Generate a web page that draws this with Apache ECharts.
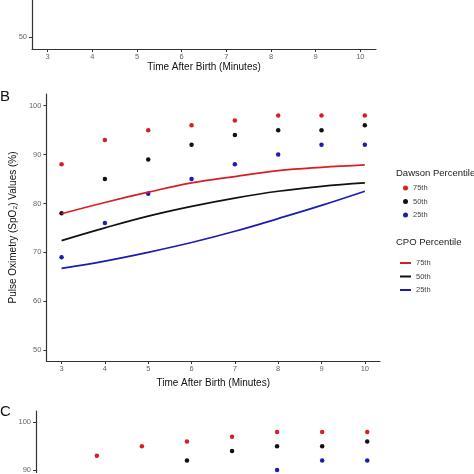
<!DOCTYPE html>
<html>
<head>
<meta charset="utf-8">
<script src="https://cdn.jsdelivr.net/npm/echarts@6/dist/echarts.min.js"></script>
<style>
  html, body { margin: 0; padding: 0; background: #fff; }
  #chart { width: 474px; height: 474px; }
</style>
</head>
<body>
<div id="chart"></div>
<script>
// minutes after birth
const minutes = [3, 4, 5, 6, 7, 8, 9, 10];
// Dawson percentiles (dots)
const dawson75 = [88, 93, 95, 96, 97, 98, 98, 98];
const dawson50 = [78, 85, 89, 92, 94, 95, 95, 96];
const dawson25 = [69, 76, 82, 85, 88, 90, 92, 92];
// CPO percentiles (curves)
const cpo75 = [77.9, 80.2, 82.3, 84.2, 85.5, 86.7, 87.4, 87.9];
const cpo50 = [72.4, 75.0, 77.4, 79.4, 81.1, 82.5, 83.5, 84.2];
const cpo25 = [66.7, 68.2, 70.0, 72.0, 74.3, 76.9, 79.6, 82.5];
// tick labels
const xTicks = [3, 4, 5, 6, 7, 8, 9, 10];
const yTicks = [50, 60, 70, 80, 90, 100];
const topYTicks = [50];
const bottomYTicks = [90, 100];

const RED = "#d81e25";
const BLACK = "#111111";
const BLUE = "#1c1cb4";
const FONT = "Liberation Sans";

const pairs = (ys) => minutes.map((m, i) => [m, ys[i]]);

function xAxis(gridIndex, showName, hidden) {
  return {
    type: "value",
    gridIndex,
    min: 2.65,
    max: 10.35,
    show: !hidden,
    name: showName ? "Time After Birth (Minutes)" : "",
    nameLocation: "middle",
    nameGap: 12,
    nameTextStyle: { fontFamily: FONT, fontSize: 10, color: "#111", verticalAlign: "top" },
    axisLine: { lineStyle: { color: "#333", width: 1.2 } },
    axisTick: { customValues: xTicks, length: 3, lineStyle: { color: "#333" } },
    axisLabel: { customValues: xTicks, margin: 4, fontFamily: FONT, fontSize: 7.5, color: "#666" },
    splitLine: { show: false },
  };
}

function yAxis(gridIndex, min, max, ticks, name) {
  return {
    type: "value",
    gridIndex,
    min,
    max,
    name: name || "",
    nameLocation: "middle",
    nameGap: 19,
    nameTextStyle: { fontFamily: FONT, fontSize: 10, color: "#111" },
    axisLine: { show: true, lineStyle: { color: "#333", width: 1.2 } },
    axisTick: { show: true, customValues: ticks, length: 3, lineStyle: { color: "#333" } },
    axisLabel: { customValues: ticks, margin: 5, fontFamily: FONT, fontSize: 7.5, color: "#666" },
    splitLine: { show: false },
  };
}

function dots(name, ys, color, idx) {
  return {
    type: "scatter",
    name,
    xAxisIndex: idx,
    yAxisIndex: idx,
    data: pairs(ys),
    symbolSize: 4.5,
    clip: true,
    itemStyle: { color, opacity: 1 },
    silent: true,
  };
}

function curve(name, ys, color) {
  return {
    type: "line",
    name,
    xAxisIndex: 1,
    yAxisIndex: 1,
    data: pairs(ys),
    smooth: 0.4,
    showSymbol: false,
    lineStyle: { color, width: 1.7 },
    itemStyle: { color },
    silent: true,
  };
}

const chart = echarts.init(document.getElementById("chart"), null, { renderer: "canvas" });
chart.setOption({
  animation: false,
  backgroundColor: "#fff",
  grid: [
    { left: 32, top: 0, width: 344, height: 49 },
    { left: 38, top: 94, width: 342, height: 267 },
    { left: 36, top: 411, width: 347, height: 63 },
  ],
  xAxis: [xAxis(0, true), xAxis(1, true), xAxis(2, false, true)],
  yAxis: [
    yAxis(0, 47.55, 57.55, topYTicks),
    yAxis(1, 47.75, 102.4, yTicks, "Pulse Oximetry (SpO\u2082) Values (%)"),
    yAxis(2, 89.5, 102.4, bottomYTicks),
  ],
  legend: [
    {
      orient: "vertical",
      left: 398,
      top: 178,
      itemGap: 3.5,
      itemWidth: 5,
      itemHeight: 5,
      selectedMode: false,
      textStyle: { fontFamily: FONT, fontSize: 7.5, color: "#444", lineHeight: 10 },
      data: [
        { name: "75th", icon: "circle" },
        { name: "50th", icon: "circle" },
        { name: "25th", icon: "circle" },
      ],
    },
    {
      orient: "vertical",
      left: 395,
      top: 253,
      itemGap: 3.5,
      itemWidth: 11,
      itemHeight: 2,
      selectedMode: false,
      textStyle: { fontFamily: FONT, fontSize: 7.5, color: "#444", lineHeight: 10 },
      data: [
        { name: "75th", icon: "rect" },
        { name: "50th", icon: "rect" },
        { name: "25th", icon: "rect" },
      ],
    },
  ],
  graphic: [
    { type: "text", left: 0, top: 89, style: { text: "B", font: "15px " + FONT, fill: "#111" } },
    { type: "text", left: 0, top: 404, style: { text: "C", font: "15px " + FONT, fill: "#111" } },
    { type: "text", left: 396, top: 168, style: { text: "Dawson Percentile", font: "9.5px " + FONT, fill: "#222" } },
    { type: "text", left: 396, top: 237, style: { text: "CPO Percentile", font: "9.5px " + FONT, fill: "#222" } },
  ],
  series: [
    { type: "scatter", xAxisIndex: 0, yAxisIndex: 0, data: [] },
    dots("75th", dawson75, RED, 1),
    dots("50th", dawson50, BLACK, 1),
    dots("25th", dawson25, BLUE, 1),
    curve("75th", cpo75, RED),
    curve("50th", cpo50, BLACK),
    curve("25th", cpo25, BLUE),
    dots("75th", dawson75, RED, 2),
    dots("50th", dawson50, BLACK, 2),
    dots("25th", dawson25, BLUE, 2),
  ],
});
</script>
</body>
</html>
